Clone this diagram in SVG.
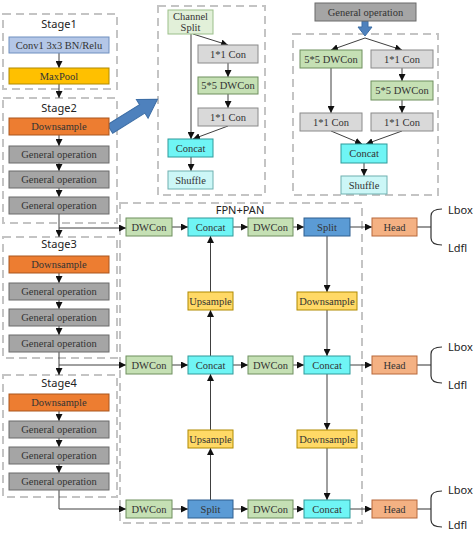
<svg xmlns="http://www.w3.org/2000/svg" width="474" height="534" viewBox="0 0 474 534">
<style>
.dash{fill:none;stroke:#c4c4c4;stroke-width:2;stroke-dasharray:8 5}
.t{font-family:"Liberation Serif",serif;font-size:10.5px;fill:#333;text-anchor:middle}
.s{font-family:"Noto Sans","Liberation Sans",sans-serif;font-size:11px;fill:#222}
.sm{text-anchor:middle}
rect{stroke-width:1}
.cv{fill:#b4c7e7;stroke:#6f8fbf}
.mp{fill:#ffc000;stroke:#b08a00}
.ds{fill:#ed7d31;stroke:#a9561e}
.go{fill:#a5a5a5;stroke:#6b6b6b}
.lg{fill:#d9d9d9;stroke:#8a8a8a}
.dw{fill:#c5e0b4;stroke:#6f8f5f}
.cs{fill:#e2f0d9;stroke:#9bbf8a}
.cc{fill:#6ff5f5;stroke:#2f9a9a}
.sh{fill:#ccf7f7;stroke:#6fb0b0}
.sp{fill:#5b9bd5;stroke:#2f5f8f}
.ys{fill:#ffd966;stroke:#b08a00}
.hd{fill:#f4b183;stroke:#b8683a}
.c{stroke:#404040;stroke-width:1;fill:none;marker-end:url(#a)}
.b{stroke:#333;stroke-width:1.2;fill:none}
.ba{fill:#4e81bd;stroke:#3d6ea6;stroke-width:1}
</style>
<defs>
<marker id="a" viewBox="0 0 8 8" refX="8" refY="4" markerWidth="7" markerHeight="7" markerUnits="userSpaceOnUse" orient="auto"><path d="M0,0 L8,4 L0,8 z" fill="#111"/></marker>
</defs>

<!-- containers -->
<g id="containers">
<rect class="dash" x="3" y="14" width="114" height="75"/>
<rect class="dash" x="3" y="98" width="114" height="125"/>
<rect class="dash" x="3" y="237" width="114" height="121"/>
<rect class="dash" x="3" y="375" width="114" height="122"/>
<rect class="dash" x="158" y="6" width="107" height="189"/>
<rect class="dash" x="293" y="34" width="145" height="161"/>
<rect class="dash" x="120" y="203" width="242" height="320"/>
<text class="s sm" x="59" y="28">Stage1</text>
<text class="s sm" x="59" y="112">Stage2</text>
<text class="s sm" x="59" y="248">Stage3</text>
<text class="s sm" x="59" y="387">Stage4</text>
<text class="s sm" x="240" y="214">FPN+PAN</text>
</g>

<!-- connectors -->
<g id="connectors">
<path class="c" d="M59,53 V68"/>
<path class="c" d="M59,84 V98"/>
<path class="c" d="M59,135 V146"/>
<path class="c" d="M59,163 V171"/>
<path class="c" d="M59,188 V197"/>
<path class="c" d="M59,214 V237"/>
<path class="c" d="M59,228 H126"/>
<path class="c" d="M59,273 V283"/>
<path class="c" d="M59,300 V309"/>
<path class="c" d="M59,326 V335"/>
<path class="c" d="M59,352 V375"/>
<path class="c" d="M59,365 H126"/>
<path class="c" d="M59,411 V421"/>
<path class="c" d="M59,438 V447"/>
<path class="c" d="M59,464 V473"/>
<path class="c" d="M59,490 V509 H126"/>
<!-- left module -->
<path class="c" d="M191,34 V139"/>
<path class="c" d="M193,34 L228,45"/>
<path class="c" d="M228,63 V77"/>
<path class="c" d="M228,94 V108"/>
<path class="c" d="M228,126 L193,139"/>
<path class="c" d="M191,157 V171"/>
<!-- right module -->
<path class="c" d="M365,38 L331,50"/>
<path class="c" d="M365,38 L402,50"/>
<path class="c" d="M331,68 V113"/>
<path class="c" d="M402,68 V81"/>
<path class="c" d="M402,100 V113"/>
<path class="c" d="M331,131 L362,144"/>
<path class="c" d="M402,131 L366,144"/>
<path class="c" d="M364,163 V176"/>
<!-- FPN rows -->
<path class="c" d="M172,227 H188"/>
<path class="c" d="M233,227 H248"/>
<path class="c" d="M293,227 H304"/>
<path class="c" d="M350,227 H372"/>
<path class="c" d="M172,365 H188"/>
<path class="c" d="M233,365 H248"/>
<path class="c" d="M293,365 H304"/>
<path class="c" d="M350,365 H372"/>
<path class="c" d="M172,509 H188"/>
<path class="c" d="M233,509 H248"/>
<path class="c" d="M293,509 H304"/>
<path class="c" d="M350,509 H372"/>
<!-- FPN verticals -->
<path class="c" d="M210.5,292 V236"/>
<path class="c" d="M210.5,356 V310"/>
<path class="c" d="M210.5,430 V374"/>
<path class="c" d="M210.5,500 V448"/>
<path class="c" d="M327,236 V292"/>
<path class="c" d="M327,310 V356"/>
<path class="c" d="M327,374 V430"/>
<path class="c" d="M327,448 V500"/>
<!-- head outputs -->
<path class="b" d="M417,227 H431 M442,209 Q431,209 431,216 V238 Q431,245 442,245"/>
<path class="b" d="M417,365 H431 M442,347 Q431,347 431,354 V376 Q431,383 442,383"/>
<path class="b" d="M417,509 H431 M442,491 Q431,491 431,498 V520 Q431,527 442,527"/>
<!-- block arrows -->
<polygon class="ba" transform="translate(110,129) rotate(-32)" points="0,-5 38,-5 38,-11 56,0 38,11 38,5 0,5"/>
<polygon class="ba" points="362,21 368,21 368,27 372,27 365,36 358,27 362,27"/>
</g>

<!-- Stage nodes -->
<g id="stage1">
<rect class="cv" x="9" y="37" width="100" height="16"/><text class="t" x="59" y="48.6">Conv1 3x3 BN/Relu</text>
<rect class="mp" x="9" y="68" width="100" height="16"/><text class="t" x="59" y="79.6">MaxPool</text>
</g>
<g id="stage2">
<rect class="ds" x="9" y="118" width="100" height="17"/><text class="t" x="59" y="130">Downsample</text>
<rect class="go" x="9" y="146" width="100" height="17"/><text class="t" x="59" y="158">General operation</text>
<rect class="go" x="9" y="171" width="100" height="17"/><text class="t" x="59" y="183">General operation</text>
<rect class="go" x="9" y="197" width="100" height="17"/><text class="t" x="59" y="209">General operation</text>
</g>
<g id="stage3">
<rect class="ds" x="9" y="256" width="100" height="17"/><text class="t" x="59" y="268">Downsample</text>
<rect class="go" x="9" y="283" width="100" height="17"/><text class="t" x="59" y="295">General operation</text>
<rect class="go" x="9" y="309" width="100" height="17"/><text class="t" x="59" y="321">General operation</text>
<rect class="go" x="9" y="335" width="100" height="17"/><text class="t" x="59" y="347">General operation</text>
</g>
<g id="stage4">
<rect class="ds" x="9" y="394" width="100" height="17"/><text class="t" x="59" y="406">Downsample</text>
<rect class="go" x="9" y="421" width="100" height="17"/><text class="t" x="59" y="433">General operation</text>
<rect class="go" x="9" y="447" width="100" height="17"/><text class="t" x="59" y="459">General operation</text>
<rect class="go" x="9" y="473" width="100" height="17"/><text class="t" x="59" y="485">General operation</text>
</g>

<!-- Downsample module -->
<g id="module-split">
<rect class="cs" x="168" y="10" width="45" height="24"/><text class="t" x="190.5" y="20">Channel</text><text class="t" x="190.5" y="31">Split</text>
<rect class="lg" x="198" y="45" width="60" height="18"/><text class="t" x="228" y="57.6">1*1 Con</text>
<rect class="dw" x="198" y="77" width="60" height="17"/><text class="t" x="228" y="89">5*5 DWCon</text>
<rect class="lg" x="198" y="108" width="60" height="18"/><text class="t" x="228" y="120.6">1*1 Con</text>
<rect class="cc" x="168" y="139" width="45" height="18"/><text class="t" x="190.5" y="151.6">Concat</text>
<rect class="sh" x="168" y="171" width="45" height="18"/><text class="t" x="190.5" y="183.6">Shuffle</text>
</g>

<!-- General operation module -->
<g id="module-general">
<rect class="go" x="315" y="3" width="101" height="18"/><text class="t" x="365.5" y="15.6">General operation</text>
<rect class="dw" x="300" y="50" width="62" height="18"/><text class="t" x="331" y="62.6">5*5 DWCon</text>
<rect class="lg" x="371" y="50" width="62" height="18"/><text class="t" x="402" y="62.6">1*1 Con</text>
<rect class="dw" x="371" y="81" width="62" height="19"/><text class="t" x="402" y="94">5*5 DWCon</text>
<rect class="lg" x="300" y="113" width="62" height="18"/><text class="t" x="331" y="125.6">1*1 Con</text>
<rect class="lg" x="371" y="113" width="62" height="18"/><text class="t" x="402" y="125.6">1*1 Con</text>
<rect class="cc" x="341" y="144" width="46" height="19"/><text class="t" x="364" y="157">Concat</text>
<rect class="sh" x="341" y="176" width="46" height="18"/><text class="t" x="364" y="188.6">Shuffle</text>
</g>

<!-- FPN+PAN -->
<g id="fpn-row1">
<rect class="dw" x="126" y="218" width="46" height="18"/><text class="t" x="149" y="230.6">DWCon</text>
<rect class="cc" x="188" y="218" width="45" height="18"/><text class="t" x="210.5" y="230.6">Concat</text>
<rect class="dw" x="248" y="218" width="45" height="18"/><text class="t" x="270.5" y="230.6">DWCon</text>
<rect class="sp" x="304" y="218" width="46" height="18"/><text class="t" x="327" y="230.6">Split</text>
<rect class="hd" x="372" y="218" width="45" height="18"/><text class="t" x="394.5" y="230.6">Head</text>
<text class="s" x="448" y="214">Lbox</text>
<text class="s" x="448" y="252">Ldfl</text>
</g>
<g id="fpn-mid1">
<rect class="ys" x="188" y="292" width="45" height="18"/><text class="t" x="210.5" y="304.6">Upsample</text>
<rect class="ys" x="297" y="292" width="60" height="18"/><text class="t" x="327" y="304.6">Downsample</text>
</g>
<g id="fpn-row2">
<rect class="dw" x="126" y="356" width="46" height="18"/><text class="t" x="149" y="368.6">DWCon</text>
<rect class="cc" x="188" y="356" width="45" height="18"/><text class="t" x="210.5" y="368.6">Concat</text>
<rect class="dw" x="248" y="356" width="45" height="18"/><text class="t" x="270.5" y="368.6">DWCon</text>
<rect class="cc" x="304" y="356" width="46" height="18"/><text class="t" x="327" y="368.6">Concat</text>
<rect class="hd" x="372" y="356" width="45" height="18"/><text class="t" x="394.5" y="368.6">Head</text>
<text class="s" x="448" y="351">Lbox</text>
<text class="s" x="448" y="389">Ldfl</text>
</g>
<g id="fpn-mid2">
<rect class="ys" x="188" y="430" width="45" height="18"/><text class="t" x="210.5" y="442.6">Upsample</text>
<rect class="ys" x="297" y="430" width="60" height="18"/><text class="t" x="327" y="442.6">Downsample</text>
</g>
<g id="fpn-row3">
<rect class="dw" x="126" y="500" width="46" height="18"/><text class="t" x="149" y="512.6">DWCon</text>
<rect class="sp" x="188" y="500" width="45" height="18"/><text class="t" x="210.5" y="512.6">Split</text>
<rect class="dw" x="248" y="500" width="45" height="18"/><text class="t" x="270.5" y="512.6">DWCon</text>
<rect class="cc" x="304" y="500" width="46" height="18"/><text class="t" x="327" y="512.6">Concat</text>
<rect class="hd" x="372" y="500" width="45" height="18"/><text class="t" x="394.5" y="512.6">Head</text>
<text class="s" x="448" y="494">Lbox</text>
<text class="s" x="448" y="529">Ldfl</text>
</g>
</svg>
